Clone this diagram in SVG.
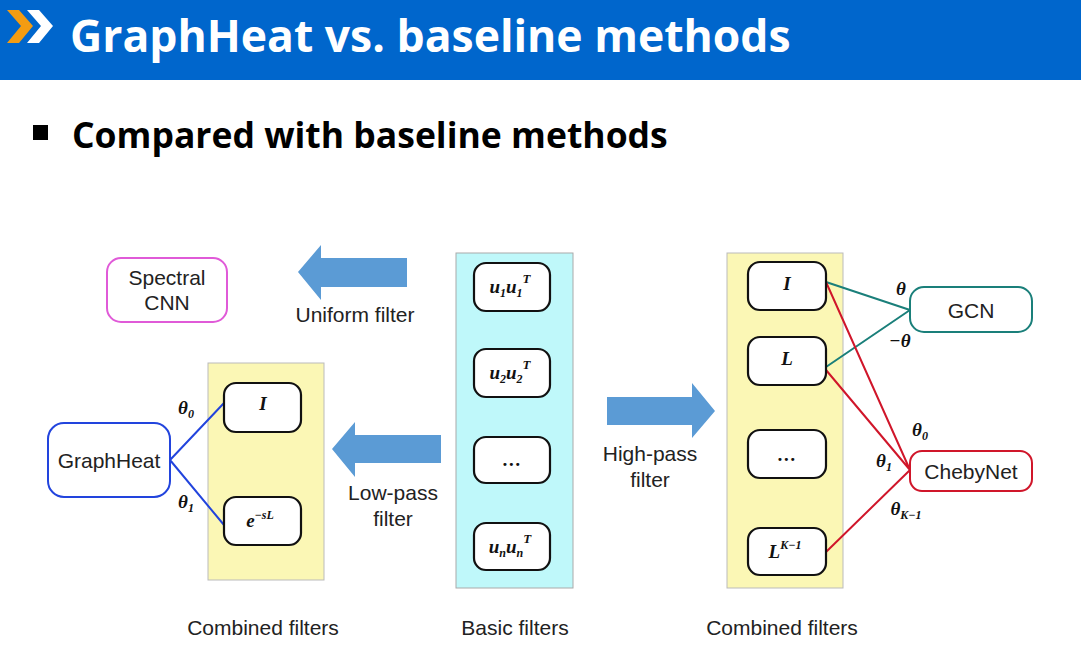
<svg xmlns="http://www.w3.org/2000/svg" width="1081" height="672" viewBox="0 0 1081 672">
<style>
.t{font-family:"Liberation Sans",Arial,sans-serif;font-size:21px;fill:#222;text-anchor:middle}
.m{font-family:"Liberation Serif","Times New Roman",serif;font-style:italic;font-weight:bold;font-size:19px;fill:#111;text-anchor:middle}
.f{fill:#fff;stroke:#111;stroke-width:2.2}
.arr{fill:#5b9bd5}
</style>
<rect width="1081" height="672" fill="#fff"/>
<rect x="0" y="0" width="1081" height="80" fill="#0066cc"/>
<path d="M7 10h12l14 16-14 17H7l14-17z" fill="#f39c12"/>
<path d="M27 10h12l14 16-14 17H27l14-17z" fill="#fff"/>
<text x="70" y="52" font-family="'Open Sans',sans-serif" font-weight="bold" font-size="44.5" fill="#fff">GraphHeat vs. baseline methods</text>
<rect x="33" y="125" width="15" height="15" fill="#000"/>
<text x="72" y="148" font-family="'Open Sans',sans-serif" font-weight="bold" font-size="35.5" fill="#000">Compared with baseline methods</text>

<g id="panels">
<rect x="208" y="363" width="116" height="217" fill="#fbf7b5" stroke="#bbb"/>
<rect x="456" y="253" width="117" height="335" fill="#bff8fa" stroke="#aaa"/>
<rect x="727" y="253" width="116" height="335" fill="#fbf7b5" stroke="#bbb"/>
</g>
<g id="arrows">
<path class="arr" d="M407 258H321V245L298 272L321 300V287H407z"/>
<path class="arr" d="M441 435H355V422L332 449L355 477V463H441z"/>
<path class="arr" d="M607 397H692V383L715 411L692 438V425H607z"/>
</g>
<g id="connectors" fill="none" stroke-width="2">
<path d="M170 460L224 403M170 460L224 525" stroke="#2244dd"/>
<path d="M826 282L910 310M826 367L910 310" stroke="#1a7f7a"/>
<path d="M826 282L910 470M826 370L910 470M826 552L910 470" stroke="#d0162a"/>
</g>
<g id="spectral"><rect x="107" y="258" width="120" height="64" rx="14" fill="#fff" stroke="#e05ad8" stroke-width="2"/><text class="t" x="167" y="285">Spectral</text><text class="t" x="167" y="310">CNN</text></g>
<g id="graphheat"><rect x="48" y="423" width="122" height="74" rx="16" fill="#fff" stroke="#2244dd" stroke-width="2"/><text class="t" x="109" y="468">GraphHeat</text></g>
<g id="gcn"><rect x="910" y="287" width="122" height="45" rx="14" fill="#fff" stroke="#1a7f7a" stroke-width="2"/><text class="t" x="971" y="318">GCN</text></g>
<g id="chebynet"><rect x="910" y="451" width="122" height="40" rx="12" fill="#fff" stroke="#d0162a" stroke-width="2"/><text class="t" x="971" y="479">ChebyNet</text></g>
<g id="lI"><rect class="f" x="224" y="383" width="77" height="49" rx="12"/><text class="m" x="263" y="410">I</text></g>
<g id="lE"><rect class="f" x="224" y="497" width="77" height="48" rx="12"/><text class="m" x="260" y="527">e<tspan font-size="12" dy="-8">−sL</tspan></text></g>
<g id="b1"><rect class="f" x="474" y="263" width="76" height="48" rx="12"/><text class="m" x="510" y="293">u<tspan font-size="12" dy="4">1</tspan><tspan dy="-4">u</tspan><tspan font-size="12" dy="4">1</tspan><tspan font-size="13" dy="-14">T</tspan></text></g>
<g id="b2"><rect class="f" x="474" y="349" width="76" height="48" rx="12"/><text class="m" x="510" y="379">u<tspan font-size="12" dy="4">2</tspan><tspan dy="-4">u</tspan><tspan font-size="12" dy="4">2</tspan><tspan font-size="13" dy="-14">T</tspan></text></g>
<g id="b3"><rect class="f" x="474" y="437" width="76" height="46" rx="12"/><text class="m" x="512" y="466" font-style="normal" font-weight="normal">…</text></g>
<g id="b4"><rect class="f" x="474" y="523" width="76" height="47" rx="12"/><text class="m" x="510" y="553">u<tspan font-size="12" dy="4">n</tspan><tspan dy="-4">u</tspan><tspan font-size="12" dy="4">n</tspan><tspan font-size="13" dy="-14">T</tspan></text></g>
<g id="rI"><rect class="f" x="748" y="262" width="78" height="48" rx="12"/><text class="m" x="787" y="290">I</text></g>
<g id="rL"><rect class="f" x="748" y="337" width="78" height="48" rx="12"/><text class="m" x="787" y="365">L</text></g>
<g id="rD"><rect class="f" x="748" y="430" width="78" height="48" rx="12"/><text class="m" x="787" y="461" font-style="normal" font-weight="normal">…</text></g>
<g id="rK"><rect class="f" x="748" y="528" width="78" height="47" rx="12"/><text class="m" x="785" y="558">L<tspan font-size="12" dy="-9">K−1</tspan></text></g>
<g id="labels">
<text class="t" x="355" y="322">Uniform filter</text>
<text class="t" x="393" y="500">Low-pass</text><text class="t" x="393" y="526">filter</text>
<text class="t" x="650" y="461">High-pass</text><text class="t" x="650" y="487">filter</text>
<text class="t" x="263" y="635">Combined filters</text>
<text class="t" x="515" y="635">Basic filters</text>
<text class="t" x="782" y="635">Combined filters</text>
<text class="m" x="186" y="414">θ<tspan font-size="12" dy="4">0</tspan></text>
<text class="m" x="186" y="508">θ<tspan font-size="12" dy="4">1</tspan></text>
<text class="m" x="901" y="295">θ</text>
<text class="m" x="900" y="347">−θ</text>
<text class="m" x="920" y="436">θ<tspan font-size="12" dy="4">0</tspan></text>
<text class="m" x="884" y="467">θ<tspan font-size="12" dy="4">1</tspan></text>
<text class="m" x="906" y="515">θ<tspan font-size="12" dy="4">K−1</tspan></text>
</g>
</svg>
